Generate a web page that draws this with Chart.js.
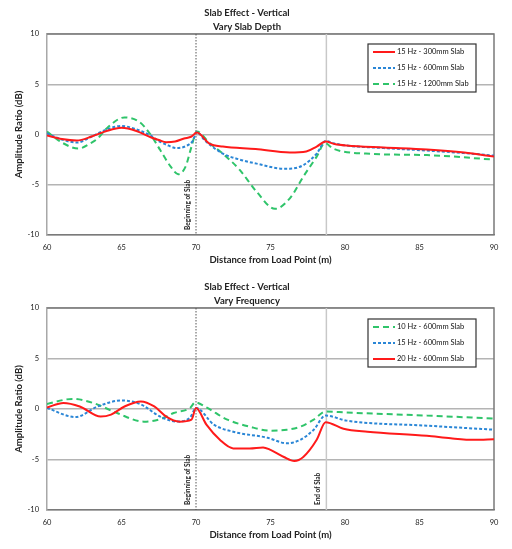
<!DOCTYPE html>
<html><head><meta charset="utf-8">
<script src="https://cdn.jsdelivr.net/npm/chart.js@4.4.0/dist/chart.umd.min.js"></script>
<style>html,body{margin:0;padding:0;background:#fff;}canvas{display:block;}</style>
</head><body>
<canvas id="c1" width="512" height="274"></canvas>
<canvas id="c2" width="512" height="275"></canvas>
<script>
// ---- shared axis data ----
const xTicks = [60, 65, 70, 75, 80, 85, 90];
const yTicks = [-10, -5, 0, 5, 10];
const slabMarks = [70, 78.75];

// ---- chart 1: Vary Slab Depth ----
const title1 = ["Slab Effect - Vertical", "Vary Slab Depth"];
const labels1 = ["15 Hz - 300mm Slab", "15 Hz - 600mm Slab", "15 Hz - 1200mm Slab"];
const a300X = [60, 61, 62, 63, 64, 65, 66, 67, 67.5, 68, 68.6, 69.2, 69.7, 70.05, 70.9, 71.8, 74, 76.3, 77.4, 78.1, 78.7, 79.3, 80.1, 82.6, 85.5, 88, 90];
const a300Y = [-0.1, -0.45, -0.6, -0.2, 0.35, 0.66, 0.35, -0.3, -0.55, -0.78, -0.7, -0.4, -0.2, 0.2, -0.9, -1.2, -1.45, -1.8, -1.7, -1.2, -0.7, -0.95, -1.1, -1.3, -1.5, -1.8, -2.2];
const a600X = [60, 61, 62, 63, 64, 65, 66, 66.9, 67.5, 68, 68.7, 69.4, 69.8, 70.05, 70.6, 71.8, 72.95, 74.07, 75.9, 76.3, 77.2, 78.1, 78.7, 79.3, 80.1, 82.6, 85.5, 88, 90];
const a600Y = [0.1, -0.5, -0.8, -0.2, 0.5, 0.85, 0.5, -0.05, -0.65, -1.0, -1.35, -1.1, -0.6, 0.25, -0.6, -1.9, -2.5, -2.9, -3.4, -3.4, -3.05, -1.9, -0.65, -0.9, -1.1, -1.35, -1.6, -1.85, -2.1];
const a1200X = [60, 61, 62.1, 63, 63.4, 64, 65.2, 66.2, 66.9, 67.6, 68.3, 68.8, 69.3, 69.7, 70.05, 70.94, 71.8, 72.95, 74.07, 75.3, 76.3, 77.2, 78.1, 78.65, 79.2, 81.4, 85.5, 90];
const a1200Y = [0.3, -0.8, -1.4, -0.8, -0.4, 0.6, 1.7, 1.25, 0.1, -1.55, -3.2, -3.95, -3.2, -1.2, 0.3, -0.9, -1.9, -3.55, -5.7, -7.4, -6.35, -4.2, -2.2, -0.85, -1.4, -1.9, -2.05, -2.5];

// ---- chart 2: Vary Frequency ----
const title2 = ["Slab Effect - Vertical", "Vary Frequency"];
const labels2 = ["10 Hz - 600mm Slab", "15 Hz - 600mm Slab", "20 Hz - 600mm Slab"];
const f10X = [60, 61.7, 63.1, 64.7, 66.5, 67.6, 68.5, 69.6, 69.95, 70.7, 72.1, 73.6, 75.0, 76.1, 77.0, 77.9, 78.7, 80.1, 85.5, 90];
const f10Y = [0.5, 1.0, 0.6, -0.4, -1.25, -1.0, -0.4, 0.1, 0.65, 0.15, -1.05, -1.75, -2.15, -2.05, -1.75, -1.05, -0.25, -0.35, -0.65, -0.95];
const f15X = [60, 61.9, 63.4, 65.0, 66.3, 67.6, 68.7, 69.6, 70.0, 71.2, 72.5, 74.8, 76.1, 77.0, 77.9, 78.7, 80.1, 85.5, 90];
const f15Y = [0.1, -0.8, 0.25, 0.85, 0.45, -0.75, -1.25, -0.85, 0.1, -1.55, -2.25, -2.85, -3.4, -3.05, -2.05, -0.65, -1.15, -1.65, -2.05];
const f20X = [60, 61.1, 62.2, 63.6, 64.3, 65.2, 66.3, 67.2, 68.0, 68.9, 69.7, 70.0, 70.7, 71.6, 72.5, 73.6, 74.5, 75.0, 75.9, 76.6, 77.2, 78.1, 78.7, 79.9, 81.5, 85.5, 87.1, 88.7, 90];
const f20Y = [0.15, 0.6, 0.25, -0.75, -0.55, 0.25, 0.75, 0.25, -0.75, -1.25, -1.05, 0.1, -1.55, -3.05, -3.9, -3.9, -3.8, -4.05, -4.75, -5.15, -4.75, -3.05, -1.3, -1.95, -2.25, -2.65, -2.9, -3.05, -3.0];

const RED = '#ff1a1a', BLUE = '#2a86d6', GREEN = '#2fc46a';
const FONT = 'Lato, "Open Sans", sans-serif';

function pts(xs, ys) { return xs.map((x, i) => ({x: x, y: ys[i]})); }
function ds(label, xs, ys, color, dash, order) {
  return {
    label: label, data: pts(xs, ys), borderColor: color, backgroundColor: color,
    borderDash: dash, borderWidth: 2, pointRadius: 0, fill: false,
    cubicInterpolationMode: 'monotone', order: order
  };
}

const decor = {
  id: 'decor',
  beforeDatasetsDraw(chart, args, opts) {
    const ctx = chart.ctx, a = chart.chartArea, xs = chart.scales.x;
    ctx.save();
    ctx.strokeStyle = '#7a7a7a'; ctx.lineWidth = 1.5;
    ctx.beginPath(); ctx.moveTo(a.left, a.top); ctx.lineTo(a.right, a.top); ctx.lineTo(a.right, a.bottom); ctx.stroke();
    const p0 = xs.getPixelForValue(slabMarks[0]);
    ctx.strokeStyle = '#555'; ctx.lineWidth = 1; ctx.setLineDash([1.5, 1.5]);
    ctx.beginPath(); ctx.moveTo(p0, a.top); ctx.lineTo(p0, a.bottom); ctx.stroke();
    const p1 = xs.getPixelForValue(slabMarks[1]);
    ctx.setLineDash([]); ctx.strokeStyle = '#c8c8c8'; ctx.lineWidth = 1.5;
    ctx.beginPath(); ctx.moveTo(p1, a.top); ctx.lineTo(p1, a.bottom); ctx.stroke();
    ctx.fillStyle = '#222'; ctx.font = 'bold 6.5px ' + FONT;
    ctx.textAlign = 'left'; ctx.textBaseline = 'middle';
    (opts.notes || []).forEach((n, i) => {
      const px = xs.getPixelForValue(slabMarks[i]) - 8;
      ctx.save(); ctx.translate(px, a.bottom - 5); ctx.rotate(-Math.PI / 2);
      ctx.fillText(n, 0, 0); ctx.restore();
    });
    ctx.restore();
  },
  afterDatasetsDraw(chart, args, opts) {
    const ctx = chart.ctx, a = chart.chartArea;
    const w = 108, h = 48;
    const left = a.right - 18 - w, top = a.top + 10 + (opts.dy || 0);
    ctx.save();
    ctx.fillStyle = '#fff'; ctx.fillRect(left, top, w, h);
    ctx.strokeStyle = '#333'; ctx.lineWidth = 1.2; ctx.strokeRect(left, top, w, h);
    ctx.font = '7.5px ' + FONT; ctx.textBaseline = 'middle'; ctx.textAlign = 'left';
    chart.data.datasets.forEach((d, i) => {
      const y = top + 8 + i * 16;
      ctx.strokeStyle = d.borderColor; ctx.lineWidth = 2; ctx.setLineDash(d.borderDash || []);
      ctx.beginPath(); ctx.moveTo(left + 5, y); ctx.lineTo(left + 27, y); ctx.stroke();
      ctx.setLineDash([]);
      ctx.fillStyle = '#111'; ctx.fillText(d.label, left + 29, y);
    });
    ctx.restore();
  }
};

function makeChart(id, titleLines, datasets, notes, dy) {
  return new Chart(document.getElementById(id), {
    type: 'line',
    data: { datasets: datasets },
    plugins: [decor],
    options: {
      responsive: false, animation: false, devicePixelRatio: 1,
      layout: { padding: { left: 0, right: 18, top: 0, bottom: 0 } },
      plugins: {
        legend: { display: false }, tooltip: { enabled: false },
        title: { display: true, text: titleLines, color: '#222',
          font: { family: FONT, size: 9.5, weight: 'bold', lineHeight: 14 / 9.5 },
          padding: { top: 6, bottom: 0 } },
        decor: { notes: notes, dy: dy }
      },
      scales: {
        x: {
          type: 'linear', min: 60, max: 90,
          afterBuildTicks: s => { s.ticks = xTicks.map(v => ({ value: v })); },
          afterFit: s => { s.height = 39; },
          grid: { display: true, drawOnChartArea: false, drawTicks: false },
          border: { color: '#7a7a7a', width: 1.5 },
          ticks: { padding: 8, color: '#222', font: { family: FONT, size: 7.5 }, maxRotation: 0, autoSkip: false },
          title: { display: true, text: 'Distance from Load Point (m)', color: '#222',
            font: { family: FONT, size: 9.5, weight: 'bold' }, padding: { top: 0, bottom: 8 } }
        },
        y: {
          min: -10, max: 10,
          afterBuildTicks: s => { s.ticks = yTicks.map(v => ({ value: v })); },
          afterFit: s => { s.width = 47; },
          grid: { color: '#b4b4b4', lineWidth: 1.5, drawTicks: false },
          border: { color: '#a8a8a8', width: 1.5 },
          ticks: { padding: 8, color: '#222', font: { family: FONT, size: 7.5 } },
          title: { display: true, text: 'Amplitude Ratio (dB)', color: '#222',
            font: { family: FONT, size: 9.5, weight: 'bold' }, padding: { top: 13, bottom: 0 } }
        }
      }
    }
  });
}

makeChart('c1', title1, [
  ds(labels1[0], a300X, a300Y, RED, [], 1),
  ds(labels1[1], a600X, a600Y, BLUE, [3, 2], 2),
  ds(labels1[2], a1200X, a1200Y, GREEN, [6, 4], 3)
], ["Beginning of Slab"], 0);

makeChart('c2', title2, [
  ds(labels2[0], f10X, f10Y, GREEN, [6, 4], 3),
  ds(labels2[1], f15X, f15Y, BLUE, [3, 2], 2),
  ds(labels2[2], f20X, f20Y, RED, [], 1)
], ["Beginning of Slab", "End of Slab"], 1);
</script>
</body></html>
